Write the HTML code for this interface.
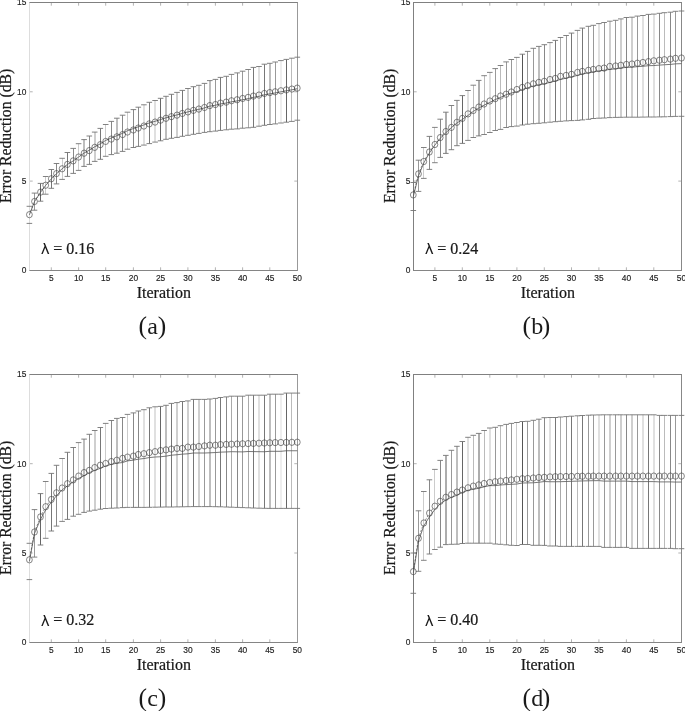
<!DOCTYPE html><html><head><meta charset="utf-8"><style>html,body{margin:0;padding:0;background:#fff;width:685px;height:711px;overflow:hidden}svg{display:block}.tk{font-family:"Liberation Sans",Arial,sans-serif;font-size:8.4px;fill:#222;stroke:#222;stroke-width:0.15px}.lb{font-family:"Liberation Serif","Times New Roman",serif;font-size:16px;fill:#1a1a1a;stroke:#1a1a1a;stroke-width:0.22px}.yl{font-size:15.7px}.it{font-style:italic}.lam{font-family:"WenQuanYi Zen Hei","Liberation Serif",sans-serif;font-size:16px;stroke-width:0px}.cap{font-family:"Liberation Serif","Times New Roman",serif;font-size:24px;fill:#1a1a1a}</style></head><body>
<svg width="685" height="711" viewBox="0 0 685 711">
<rect width="685" height="711" fill="#fff"/>
<g><path d="M29 2.5H298" stroke="#808080" stroke-width="1"/><path d="M29 270.5H298" stroke="#858585" stroke-width="1"/><path d="M29.5 2.5V270.5" stroke="#ddd" stroke-width="1"/><path d="M297.5 2.5V270.5" stroke="#999" stroke-width="1"/><path d="M51.3 270v-2.7M51.3 3v2.7M78.6 270v-2.7M78.6 3v2.7M105.7 270v-2.7M105.7 3v2.7M133.4 270v-2.7M133.4 3v2.7M160.6 270v-2.7M160.6 3v2.7M187.9 270v-2.7M187.9 3v2.7M215.4 270v-2.7M215.4 3v2.7M242.6 270v-2.7M242.6 3v2.7M269.8 270v-2.7M269.8 3v2.7M30 181.1h2.7M297 181.1h-2.7M30 91.8h2.7M297 91.8h-2.7" stroke="#aaa" stroke-width="0.9" fill="none"/><path d="M29.5 206.3V223.4" stroke="#ddd" stroke-width="1" fill="none"/><path d="M34.5 193.1V210.2M204.5 83.4V132.4M215.5 79.4V131.1M242.5 71.2V128.2M275.5 62V123.9M297.5 57.2V120.2" stroke="#999" stroke-width="1" fill="none"/><path d="M40.5 183.4V201.2M160.5 98.3V140.8M286.5 59.4V122.2" stroke="#666" stroke-width="1" fill="none"/><path d="M45.5 176.5V194.2M62.5 158.3V179.4M78.5 143.7V170.4M105.5 124.5V156.3M127.5 112.2V149.2" stroke="#ccc" stroke-width="1" fill="none"/><path d="M51.5 169.5V188.3M67.5 152.5V176.4M100.5 128.4V159.3M149.5 102.3V143.6M171.5 94.3V138.3M182.5 90.4V136.3M193.5 86.7V134.3M220.5 77.4V130.4M253.5 67.4V127.3M264.5 64.2V125.3" stroke="#777" stroke-width="1" fill="none"/><path d="M56.5 163.5V183.9M73.5 148.4V173.4M89.5 136V164.4M111.5 121.4V154.6M122.5 115.2V151.4M133.5 109.6V147.5M138.5 107.2V146.4M226.5 76.3V129.8M237.5 72.9V128.9" stroke="#888" stroke-width="1" fill="none"/><path d="M84 139.6V166.4M117 118.2V153.2M166 96.3V139.3M210 80.6V131.7M270 63.3V124.5" stroke="#bebebe" stroke-width="2" fill="none"/><path d="M95 132.1V161.4M177 92.4V137.4M188 88.5V135.3M199 85.3V133.4" stroke="#cfcfcf" stroke-width="2" fill="none"/><path d="M144 104.8V145.1M155 100.5V142.1M259 66.5V126.2" stroke="#e0e0e0" stroke-width="2" fill="none"/><path d="M231.5 74.4V129.2M248.5 69.5V127.8" stroke="#aaa" stroke-width="1" fill="none"/><path d="M281 60.6V123" stroke="#eeeeee" stroke-width="2" fill="none"/><path d="M291.5 58.2V121.4" stroke="#bbb" stroke-width="1" fill="none"/><path d="M26.6 206.3h5.6M26.6 223.4h5.6M31.7 193.1h5.6M31.7 210.2h5.6M37.7 183.4h5.6M37.7 201.2h5.6M42.9 176.5h5.6M42.9 194.2h5.6M48.5 169.5h5.6M48.5 188.3h5.6M53.7 163.5h5.6M53.7 183.9h5.6M59.3 158.3h5.6M59.3 179.4h5.6M64.6 152.5h5.6M64.6 176.4h5.6M70.4 148.4h5.6M70.4 173.4h5.6M75.8 143.7h5.6M75.8 170.4h5.6M81.3 139.6h5.6M81.3 166.4h5.6M86.5 136h5.6M86.5 164.4h5.6M91.9 132.1h5.6M91.9 161.4h5.6M97.5 128.4h5.6M97.5 159.3h5.6M102.9 124.5h5.6M102.9 156.3h5.6M108.5 121.4h5.6M108.5 154.6h5.6M114 118.2h5.6M114 153.2h5.6M119.8 115.2h5.6M119.8 151.4h5.6M124.7 112.2h5.6M124.7 149.2h5.6M130.6 109.6h5.6M130.6 147.5h5.6M135.5 107.2h5.6M135.5 146.4h5.6M141.1 104.8h5.6M141.1 145.1h5.6M146.5 102.3h5.6M146.5 143.6h5.6M152.3 100.5h5.6M152.3 142.1h5.6M157.8 98.3h5.6M157.8 140.8h5.6M163.2 96.3h5.6M163.2 139.3h5.6M168.6 94.3h5.6M168.6 138.3h5.6M174.2 92.4h5.6M174.2 137.4h5.6M179.5 90.4h5.6M179.5 136.3h5.6M185.1 88.5h5.6M185.1 135.3h5.6M190.6 86.7h5.6M190.6 134.3h5.6M196 85.3h5.6M196 133.4h5.6M201.7 83.4h5.6M201.7 132.4h5.6M207 80.6h5.6M207 131.7h5.6M212.6 79.4h5.6M212.6 131.1h5.6M217.7 77.4h5.6M217.7 130.4h5.6M223.4 76.3h5.6M223.4 129.8h5.6M228.7 74.4h5.6M228.7 129.2h5.6M234.3 72.9h5.6M234.3 128.9h5.6M239.8 71.2h5.6M239.8 128.2h5.6M245.3 69.5h5.6M245.3 127.8h5.6M250.6 67.4h5.6M250.6 127.3h5.6M256.2 66.5h5.6M256.2 126.2h5.6M261.6 64.2h5.6M261.6 125.3h5.6M267 63.3h5.6M267 124.5h5.6M272.4 62h5.6M272.4 123.9h5.6M278.1 60.6h5.6M278.1 123h5.6M283.5 59.4h5.6M283.5 122.2h5.6M289.1 58.2h5.6M289.1 121.4h5.6M294.5 57.2h5.6M294.5 120.2h5.6" stroke="#747474" stroke-width="0.9" fill="none"/><polyline points="29.4,214.85 34.5,201.65 40.5,192.3 45.7,185.35 51.3,178.9 56.5,173.7 62.1,168.85 67.4,164.45 73.2,160.9 78.6,157.05 84.1,153 89.3,150.2 94.7,146.75 100.3,143.85 105.7,140.4 111.3,138 116.8,135.7 122.6,133.3 127.5,130.7 133.4,128.55 138.3,126.8 143.9,124.95 149.3,122.95 155.1,121.3 160.6,119.55 166,117.8 171.4,116.3 177,114.9 182.3,113.35 187.9,111.9 193.4,110.5 198.8,109.35 204.5,107.9 209.8,106.15 215.4,105.25 220.5,103.9 226.2,103.05 231.5,101.8 237.1,100.9 242.6,99.7 248.1,98.65 253.4,97.35 259,96.35 264.4,94.75 269.8,93.9 275.2,92.95 280.9,91.8 286.3,90.8 291.9,89.8 297.3,88.7" stroke="#555" stroke-width="0.8" fill="none"/><path d="M30.54 211.71L33.36 204.41M36.2 198.82L38.8 194.79M42.39 189.63L43.81 187.74M47.77 182.84L49.23 181.16M53.53 176.57L54.27 175.83M58.89 171.55L59.71 170.84" stroke="#383838" stroke-width="0.6" stroke-dasharray="2.2,1.4" fill="none"/><g stroke="#383838" stroke-width="0.6" fill="none"><ellipse cx="29.4" cy="214.65" rx="2.9" ry="3.15"/><ellipse cx="34.5" cy="201.47" rx="2.9" ry="3.15"/><ellipse cx="40.5" cy="192.14" rx="2.9" ry="3.15"/><ellipse cx="45.7" cy="185.22" rx="2.9" ry="3.15"/><ellipse cx="51.3" cy="178.79" rx="2.9" ry="3.15"/><ellipse cx="56.5" cy="173.61" rx="2.9" ry="3.15"/><ellipse cx="62.1" cy="168.78" rx="2.9" ry="3.15"/><ellipse cx="67.4" cy="164.41" rx="2.9" ry="3.15"/><ellipse cx="73.2" cy="160.88" rx="2.9" ry="3.15"/><ellipse cx="78.6" cy="157.05" rx="2.9" ry="3.15"/><ellipse cx="84.1" cy="153.2" rx="2.9" ry="3.15"/><ellipse cx="89.3" cy="150.6" rx="2.9" ry="3.15"/><ellipse cx="94.7" cy="147.35" rx="2.9" ry="3.15"/><ellipse cx="100.3" cy="144.65" rx="2.9" ry="3.15"/><ellipse cx="105.7" cy="141.4" rx="2.9" ry="3.15"/><ellipse cx="111.3" cy="139.08" rx="2.9" ry="3.15"/><ellipse cx="116.8" cy="136.86" rx="2.9" ry="3.15"/><ellipse cx="122.6" cy="134.54" rx="2.9" ry="3.15"/><ellipse cx="127.5" cy="132.02" rx="2.9" ry="3.15"/><ellipse cx="133.4" cy="129.95" rx="2.9" ry="3.15"/><ellipse cx="138.3" cy="128.04" rx="2.9" ry="3.15"/><ellipse cx="143.9" cy="126.03" rx="2.9" ry="3.15"/><ellipse cx="149.3" cy="123.87" rx="2.9" ry="3.15"/><ellipse cx="155.1" cy="122.06" rx="2.9" ry="3.15"/><ellipse cx="160.6" cy="120.15" rx="2.9" ry="3.15"/><ellipse cx="166" cy="118.28" rx="2.9" ry="3.15"/><ellipse cx="171.4" cy="116.66" rx="2.9" ry="3.15"/><ellipse cx="177" cy="115.14" rx="2.9" ry="3.15"/><ellipse cx="182.3" cy="113.47" rx="2.9" ry="3.15"/><ellipse cx="187.9" cy="111.9" rx="2.9" ry="3.15"/><ellipse cx="193.4" cy="110.36" rx="2.9" ry="3.15"/><ellipse cx="198.8" cy="109.07" rx="2.9" ry="3.15"/><ellipse cx="204.5" cy="107.48" rx="2.9" ry="3.15"/><ellipse cx="209.8" cy="105.59" rx="2.9" ry="3.15"/><ellipse cx="215.4" cy="104.55" rx="2.9" ry="3.15"/><ellipse cx="220.5" cy="103.09" rx="2.9" ry="3.15"/><ellipse cx="226.2" cy="102.13" rx="2.9" ry="3.15"/><ellipse cx="231.5" cy="100.77" rx="2.9" ry="3.15"/><ellipse cx="237.1" cy="99.76" rx="2.9" ry="3.15"/><ellipse cx="242.6" cy="98.45" rx="2.9" ry="3.15"/><ellipse cx="248.1" cy="97.39" rx="2.9" ry="3.15"/><ellipse cx="253.4" cy="96.08" rx="2.9" ry="3.15"/><ellipse cx="259" cy="95.07" rx="2.9" ry="3.15"/><ellipse cx="264.4" cy="93.46" rx="2.9" ry="3.15"/><ellipse cx="269.8" cy="92.6" rx="2.9" ry="3.15"/><ellipse cx="275.2" cy="91.79" rx="2.9" ry="3.15"/><ellipse cx="280.9" cy="90.78" rx="2.9" ry="3.15"/><ellipse cx="286.3" cy="89.92" rx="2.9" ry="3.15"/><ellipse cx="291.9" cy="89.06" rx="2.9" ry="3.15"/><ellipse cx="297.3" cy="88.1" rx="2.9" ry="3.15"/></g><text class="tk" x="51.3" y="281.1" text-anchor="middle">5</text><text class="tk" x="78.6" y="281.1" text-anchor="middle">10</text><text class="tk" x="105.7" y="281.1" text-anchor="middle">15</text><text class="tk" x="133.4" y="281.1" text-anchor="middle">20</text><text class="tk" x="160.6" y="281.1" text-anchor="middle">25</text><text class="tk" x="187.9" y="281.1" text-anchor="middle">30</text><text class="tk" x="215.4" y="281.1" text-anchor="middle">35</text><text class="tk" x="242.6" y="281.1" text-anchor="middle">40</text><text class="tk" x="269.8" y="281.1" text-anchor="middle">45</text><text class="tk" x="297.3" y="281.1" text-anchor="middle">50</text><text class="tk" x="26.4" y="273.35" text-anchor="end">0</text><text class="tk" x="26.4" y="184.05" text-anchor="end">5</text><text class="tk" x="26.4" y="94.75" text-anchor="end">10</text><text class="tk" x="26.4" y="5.45" text-anchor="end">15</text><text class="lb" x="163.8" y="298" text-anchor="middle">Iteration</text><text class="lb yl" transform="translate(11.25,135.9) rotate(-90)" text-anchor="middle">Error Reduction (dB)</text><text class="lb lam" transform="translate(41,253.8)">&#955;</text><text class="lb" x="53.3" y="253.5">= 0.16</text><text class="cap" y="333.6"><tspan x="138.6" style="font-size:25.5px">(</tspan><tspan x="147.3">a</tspan><tspan x="157.8" style="font-size:25.5px">)</tspan></text></g>
<g><path d="M413 2.5H682" stroke="#808080" stroke-width="1"/><path d="M413 270.5H682" stroke="#858585" stroke-width="1"/><path d="M413.5 2.5V270.5" stroke="#808080" stroke-width="1"/><path d="M681.5 2.5V270.5" stroke="#888" stroke-width="1"/><path d="M434.9 270v-2.7M434.9 3v2.7M462.3 270v-2.7M462.3 3v2.7M489.8 270v-2.7M489.8 3v2.7M516.9 270v-2.7M516.9 3v2.7M544.3 270v-2.7M544.3 3v2.7M571.5 270v-2.7M571.5 3v2.7M598.9 270v-2.7M598.9 3v2.7M626.4 270v-2.7M626.4 3v2.7M653.8 270v-2.7M653.8 3v2.7M414 181.1h2.7M681 181.1h-2.7M414 91.8h2.7M681 91.8h-2.7" stroke="#aaa" stroke-width="0.9" fill="none"/><path d="M413.5 182.5V210.5M555.5 40.4V121.7M571.5 33.1V120.6M582.5 28.1V119.9M648.5 14.4V117" stroke="#777" stroke-width="1" fill="none"/><path d="M418.5 160.2V191.4M451.5 105.5V149.7M495.5 68.6V130.5M506.5 61.9V127.5M511.5 59.5V126.6M527.5 51.4V124.2M533.5 48.3V123.7M566.5 35.5V120.9M588.5 26.3V119.3M593.5 25.3V118.5M604.5 22.5V118M615.5 20.3V117.4M637.5 16.1V117.2M675.5 11.3V116.4" stroke="#999" stroke-width="1" fill="none"/><path d="M423.5 147.5V178.4M434.5 127.4V162.7M516.5 57.4V126.1" stroke="#ccc" stroke-width="1" fill="none"/><path d="M429.5 136.4V169.4M440.5 119.2V157.4M544.5 44.7V122.8M626.5 17.5V117.2M659.5 13.3V116.9M670.5 12.2V116.6M681.5 11V116.3" stroke="#888" stroke-width="1" fill="none"/><path d="M446 112.2V153.4M479 80.4V135.9" stroke="#adadad" stroke-width="2" fill="none"/><path d="M457 100.4V145.7M539 46.4V123.3" stroke="#bebebe" stroke-width="2" fill="none"/><path d="M462.5 95.6V143.4" stroke="#666" stroke-width="1" fill="none"/><path d="M468 90.5V140.4M490 72.4V132.5M550 42.6V122.2M599 23.6V118.2M643 15.5V117.1M654 14.1V117" stroke="#e0e0e0" stroke-width="2" fill="none"/><path d="M473.5 85.2V137.5M484.5 75.7V134.5M500.5 65.5V129.4M577.5 30.4V120.4M664.5 12.7V116.8" stroke="#bbb" stroke-width="1" fill="none"/><path d="M522.5 54.2V125" stroke="#555" stroke-width="1" fill="none"/><path d="M560.5 37.5V121.3" stroke="#aaa" stroke-width="1" fill="none"/><path d="M610 21.2V117.6M621 18.9V117.3M632 17.2V117.2" stroke="#cfcfcf" stroke-width="2" fill="none"/><path d="M410.5 182.5h5.6M410.5 210.5h5.6M415.7 160.2h5.6M415.7 191.4h5.6M421 147.5h5.6M421 178.4h5.6M426.6 136.4h5.6M426.6 169.4h5.6M432.1 127.4h5.6M432.1 162.7h5.6M437.4 119.2h5.6M437.4 157.4h5.6M443 112.2h5.6M443 153.4h5.6M448.6 105.5h5.6M448.6 149.7h5.6M454.1 100.4h5.6M454.1 145.7h5.6M459.5 95.6h5.6M459.5 143.4h5.6M465.2 90.5h5.6M465.2 140.4h5.6M470.5 85.2h5.6M470.5 137.5h5.6M475.9 80.4h5.6M475.9 135.9h5.6M481.3 75.7h5.6M481.3 134.5h5.6M487 72.4h5.6M487 132.5h5.6M492.4 68.6h5.6M492.4 130.5h5.6M497.7 65.5h5.6M497.7 129.4h5.6M503.3 61.9h5.6M503.3 127.5h5.6M508.5 59.5h5.6M508.5 126.6h5.6M514.1 57.4h5.6M514.1 126.1h5.6M519.5 54.2h5.6M519.5 125h5.6M524.9 51.4h5.6M524.9 124.2h5.6M530.5 48.3h5.6M530.5 123.7h5.6M536 46.4h5.6M536 123.3h5.6M541.5 44.7h5.6M541.5 122.8h5.6M547.2 42.6h5.6M547.2 122.2h5.6M552.5 40.4h5.6M552.5 121.7h5.6M557.7 37.5h5.6M557.7 121.3h5.6M563.3 35.5h5.6M563.3 120.9h5.6M568.7 33.1h5.6M568.7 120.6h5.6M574.7 30.4h5.6M574.7 120.4h5.6M579.5 28.1h5.6M579.5 119.9h5.6M585.6 26.3h5.6M585.6 119.3h5.6M590.5 25.3h5.6M590.5 118.5h5.6M596.1 23.6h5.6M596.1 118.2h5.6M601.3 22.5h5.6M601.3 118h5.6M607 21.2h5.6M607 117.6h5.6M612.8 20.3h5.6M612.8 117.4h5.6M618 18.9h5.6M618 117.3h5.6M623.6 17.5h5.6M623.6 117.2h5.6M629.2 17.2h5.6M629.2 117.2h5.6M634.6 16.1h5.6M634.6 117.2h5.6M640.1 15.5h5.6M640.1 117.1h5.6M645.6 14.4h5.6M645.6 117h5.6M651 14.1h5.6M651 117h5.6M656.6 13.3h5.6M656.6 116.9h5.6M661.6 12.7h5.6M661.6 116.8h5.6M667.6 12.2h5.6M667.6 116.6h5.6M672.7 11.3h5.6M672.7 116.4h5.6M678.7 11h5.6M678.7 116.3h5.6" stroke="#747474" stroke-width="0.9" fill="none"/><polyline points="413.3,196.5 418.5,175.8 423.8,162.95 429.4,152.9 434.9,145.05 440.2,138.3 445.8,132.8 451.4,127.6 456.9,123.05 462.3,119.5 468,115.45 473.3,111.35 478.7,108.15 484.1,105.1 489.8,102.45 495.2,99.55 500.5,97.45 506.1,94.7 511.3,93.05 516.9,91.75 522.3,89.6 527.7,87.8 533.3,86 538.8,84.85 544.3,83.75 550,82.4 555.3,81.05 560.5,79.4 566.1,78.2 571.5,76.85 577.5,75.4 582.3,74 588.4,72.8 593.3,71.9 598.9,70.9 604.1,70.25 609.8,69.4 615.6,68.85 620.8,68.1 626.4,67.35 632,67.2 637.4,66.65 642.9,66.3 648.4,65.7 653.8,65.55 659.4,65.1 664.4,64.75 670.4,64.4 675.5,63.85 681.5,63.65" stroke="#555" stroke-width="0.8" fill="none"/><path d="M414.06 191.84L417.74 176.96M419.74 171L422.56 164.4M425.4 158.79L427.8 154.71M431.26 149.46L433.04 147.04M436.82 142L438.28 140.1M442.33 135.28L443.67 133.82M453.71 125.26L454.59 124.44M464.77 116.45L465.53 115.85" stroke="#383838" stroke-width="0.6" stroke-dasharray="2.2,1.4" fill="none"/><g stroke="#383838" stroke-width="0.6" fill="none"><ellipse cx="413.3" cy="194.9" rx="2.9" ry="3.15"/><ellipse cx="418.5" cy="173.9" rx="2.9" ry="3.15"/><ellipse cx="423.8" cy="161.5" rx="2.9" ry="3.15"/><ellipse cx="429.4" cy="152" rx="2.9" ry="3.15"/><ellipse cx="434.9" cy="144.5" rx="2.9" ry="3.15"/><ellipse cx="440.2" cy="137.6" rx="2.9" ry="3.15"/><ellipse cx="445.8" cy="131.5" rx="2.9" ry="3.15"/><ellipse cx="451.4" cy="127.4" rx="2.9" ry="3.15"/><ellipse cx="456.9" cy="122.3" rx="2.9" ry="3.15"/><ellipse cx="462.3" cy="118.4" rx="2.9" ry="3.15"/><ellipse cx="468" cy="113.9" rx="2.9" ry="3.15"/><ellipse cx="473.3" cy="110.5" rx="2.9" ry="3.15"/><ellipse cx="478.7" cy="107.1" rx="2.9" ry="3.15"/><ellipse cx="484.1" cy="104" rx="2.9" ry="3.15"/><ellipse cx="489.8" cy="101" rx="2.9" ry="3.15"/><ellipse cx="495.2" cy="98.7" rx="2.9" ry="3.15"/><ellipse cx="500.5" cy="96" rx="2.9" ry="3.15"/><ellipse cx="506.1" cy="94.2" rx="2.9" ry="3.15"/><ellipse cx="511.3" cy="92" rx="2.9" ry="3.15"/><ellipse cx="516.9" cy="89.5" rx="2.9" ry="3.15"/><ellipse cx="522.3" cy="87.4" rx="2.9" ry="3.15"/><ellipse cx="527.7" cy="85.7" rx="2.9" ry="3.15"/><ellipse cx="533.3" cy="83.8" rx="2.9" ry="3.15"/><ellipse cx="538.8" cy="82.4" rx="2.9" ry="3.15"/><ellipse cx="544.3" cy="81.3" rx="2.9" ry="3.15"/><ellipse cx="550" cy="79.5" rx="2.9" ry="3.15"/><ellipse cx="555.3" cy="78.4" rx="2.9" ry="3.15"/><ellipse cx="560.5" cy="76.3" rx="2.9" ry="3.15"/><ellipse cx="566.1" cy="75.4" rx="2.9" ry="3.15"/><ellipse cx="571.5" cy="74.3" rx="2.9" ry="3.15"/><ellipse cx="577.5" cy="72.4" rx="2.9" ry="3.15"/><ellipse cx="582.3" cy="71.4" rx="2.9" ry="3.15"/><ellipse cx="588.4" cy="70.3" rx="2.9" ry="3.15"/><ellipse cx="593.3" cy="69.4" rx="2.9" ry="3.15"/><ellipse cx="598.9" cy="68.6" rx="2.9" ry="3.15"/><ellipse cx="604.1" cy="68.1" rx="2.9" ry="3.15"/><ellipse cx="609.8" cy="66.4" rx="2.9" ry="3.15"/><ellipse cx="615.6" cy="66" rx="2.9" ry="3.15"/><ellipse cx="620.8" cy="65.3" rx="2.9" ry="3.15"/><ellipse cx="626.4" cy="64.4" rx="2.9" ry="3.15"/><ellipse cx="632" cy="64" rx="2.9" ry="3.15"/><ellipse cx="637.4" cy="63.2" rx="2.9" ry="3.15"/><ellipse cx="642.9" cy="62.5" rx="2.9" ry="3.15"/><ellipse cx="648.4" cy="61.6" rx="2.9" ry="3.15"/><ellipse cx="653.8" cy="60.8" rx="2.9" ry="3.15"/><ellipse cx="659.4" cy="60.2" rx="2.9" ry="3.15"/><ellipse cx="664.4" cy="59.7" rx="2.9" ry="3.15"/><ellipse cx="670.4" cy="59.1" rx="2.9" ry="3.15"/><ellipse cx="675.5" cy="58.3" rx="2.9" ry="3.15"/><ellipse cx="681.5" cy="58" rx="2.9" ry="3.15"/></g><text class="tk" x="434.9" y="281.1" text-anchor="middle">5</text><text class="tk" x="462.3" y="281.1" text-anchor="middle">10</text><text class="tk" x="489.8" y="281.1" text-anchor="middle">15</text><text class="tk" x="516.9" y="281.1" text-anchor="middle">20</text><text class="tk" x="544.3" y="281.1" text-anchor="middle">25</text><text class="tk" x="571.5" y="281.1" text-anchor="middle">30</text><text class="tk" x="598.9" y="281.1" text-anchor="middle">35</text><text class="tk" x="626.4" y="281.1" text-anchor="middle">40</text><text class="tk" x="653.8" y="281.1" text-anchor="middle">45</text><text class="tk" x="681.5" y="281.1" text-anchor="middle">50</text><text class="tk" x="410.4" y="273.35" text-anchor="end">0</text><text class="tk" x="410.4" y="184.05" text-anchor="end">5</text><text class="tk" x="410.4" y="94.75" text-anchor="end">10</text><text class="tk" x="410.4" y="5.45" text-anchor="end">15</text><text class="lb" x="547.8" y="298" text-anchor="middle">Iteration</text><text class="lb yl" transform="translate(395.25,135.9) rotate(-90)" text-anchor="middle">Error Reduction (dB)</text><text class="lb lam" transform="translate(425,253.8)">&#955;</text><text class="lb" x="437.3" y="253.5">= 0.24</text><text class="cap" y="333.6"><tspan x="522.6" style="font-size:25.5px">(</tspan><tspan x="531.3">b</tspan><tspan x="541.8" style="font-size:25.5px">)</tspan></text></g>
<g><path d="M29 374.5H298" stroke="#808080" stroke-width="1"/><path d="M29 642.5H298" stroke="#858585" stroke-width="1"/><path d="M29.5 374.5V642.5" stroke="#ddd" stroke-width="1"/><path d="M297.5 374.5V642.5" stroke="#999" stroke-width="1"/><path d="M51.3 642v-2.7M51.3 375v2.7M78.6 642v-2.7M78.6 375v2.7M105.7 642v-2.7M105.7 375v2.7M133.4 642v-2.7M133.4 375v2.7M160.6 642v-2.7M160.6 375v2.7M187.9 642v-2.7M187.9 375v2.7M215.4 642v-2.7M215.4 375v2.7M242.6 642v-2.7M242.6 375v2.7M269.8 642v-2.7M269.8 375v2.7M30 553h2.7M297 553h-2.7M30 463.7h2.7M297 463.7h-2.7" stroke="#aaa" stroke-width="0.9" fill="none"/><path d="M29.5 543.3V579.6" stroke="#ddd" stroke-width="1" fill="none"/><path d="M34.5 509.6V557.1M204.5 399.4V506.6M215.5 398.4V506.7M242.5 396.2V507.6M275.5 394.2V508.4M297.5 393.1V508.4" stroke="#999" stroke-width="1" fill="none"/><path d="M40.5 493.6V545M160.5 406.4V507.1M286.5 393.1V508.4" stroke="#666" stroke-width="1" fill="none"/><path d="M45.5 481.5V538.3M62.5 458.5V521.4M78.5 442.6V514.3M105.5 423.4V508.5M127.5 414.4V507.4" stroke="#ccc" stroke-width="1" fill="none"/><path d="M51.5 473.4V531M67.5 452.3V519.4M100.5 427.5V509.2M149.5 407.8V507.3M171.5 403.4V507M182.5 401.5V506.8M193.5 399.4V506.6M220.5 397.5V506.8M253.5 395.2V508M264.5 395.2V508.3" stroke="#777" stroke-width="1" fill="none"/><path d="M56.5 465.3V526.1M73.5 447.5V516.2M89.5 434.3V511.1M111.5 420.5V508.2M122.5 417.5V507.6M133.5 412.9V507.4M138.5 411V507.4M226.5 396.9V507M237.5 396.2V507.4" stroke="#888" stroke-width="1" fill="none"/><path d="M84 439.1V512.4M117 418.4V508M166 405.3V507M210 399V506.6M270 394.2V508.4" stroke="#bebebe" stroke-width="2" fill="none"/><path d="M95 430.5V510.2M177 402.6V506.9M188 400.9V506.7M199 399.4V506.6" stroke="#cfcfcf" stroke-width="2" fill="none"/><path d="M144 409.7V507.4M155 406.8V507.2M259 395.2V508.2" stroke="#e0e0e0" stroke-width="2" fill="none"/><path d="M231.5 396.2V507.2M248.5 395.2V507.8" stroke="#aaa" stroke-width="1" fill="none"/><path d="M281 394.2V508.4" stroke="#eeeeee" stroke-width="2" fill="none"/><path d="M291.5 393.1V508.4" stroke="#bbb" stroke-width="1" fill="none"/><path d="M26.6 543.3h5.6M26.6 579.6h5.6M31.7 509.6h5.6M31.7 557.1h5.6M37.7 493.6h5.6M37.7 545h5.6M42.9 481.5h5.6M42.9 538.3h5.6M48.5 473.4h5.6M48.5 531h5.6M53.7 465.3h5.6M53.7 526.1h5.6M59.3 458.5h5.6M59.3 521.4h5.6M64.6 452.3h5.6M64.6 519.4h5.6M70.4 447.5h5.6M70.4 516.2h5.6M75.8 442.6h5.6M75.8 514.3h5.6M81.3 439.1h5.6M81.3 512.4h5.6M86.5 434.3h5.6M86.5 511.1h5.6M91.9 430.5h5.6M91.9 510.2h5.6M97.5 427.5h5.6M97.5 509.2h5.6M102.9 423.4h5.6M102.9 508.5h5.6M108.5 420.5h5.6M108.5 508.2h5.6M114 418.4h5.6M114 508h5.6M119.8 417.5h5.6M119.8 507.6h5.6M124.7 414.4h5.6M124.7 507.4h5.6M130.6 412.9h5.6M130.6 507.4h5.6M135.5 411h5.6M135.5 507.4h5.6M141.1 409.7h5.6M141.1 507.4h5.6M146.5 407.8h5.6M146.5 507.3h5.6M152.3 406.8h5.6M152.3 507.2h5.6M157.8 406.4h5.6M157.8 507.1h5.6M163.2 405.3h5.6M163.2 507h5.6M168.6 403.4h5.6M168.6 507h5.6M174.2 402.6h5.6M174.2 506.9h5.6M179.5 401.5h5.6M179.5 506.8h5.6M185.1 400.9h5.6M185.1 506.7h5.6M190.6 399.4h5.6M190.6 506.6h5.6M196 399.4h5.6M196 506.6h5.6M201.7 399.4h5.6M201.7 506.6h5.6M207 399h5.6M207 506.6h5.6M212.6 398.4h5.6M212.6 506.7h5.6M217.7 397.5h5.6M217.7 506.8h5.6M223.4 396.9h5.6M223.4 507h5.6M228.7 396.2h5.6M228.7 507.2h5.6M234.3 396.2h5.6M234.3 507.4h5.6M239.8 396.2h5.6M239.8 507.6h5.6M245.3 395.2h5.6M245.3 507.8h5.6M250.6 395.2h5.6M250.6 508h5.6M256.2 395.2h5.6M256.2 508.2h5.6M261.6 395.2h5.6M261.6 508.3h5.6M267 394.2h5.6M267 508.4h5.6M272.4 394.2h5.6M272.4 508.4h5.6M278.1 394.2h5.6M278.1 508.4h5.6M283.5 393.1h5.6M283.5 508.4h5.6M289.1 393.1h5.6M289.1 508.4h5.6M294.5 393.1h5.6M294.5 508.4h5.6" stroke="#747474" stroke-width="0.9" fill="none"/><polyline points="29.4,561.45 34.5,533.35 40.5,519.3 45.7,509.9 51.3,502.2 56.5,495.7 62.1,489.95 67.4,485.85 73.2,481.85 78.6,478.45 84.1,475.75 89.3,472.7 94.7,470.35 100.3,468.35 105.7,465.95 111.3,464.35 116.8,463.2 122.6,462.55 127.5,460.9 133.4,460.15 138.3,459.2 143.9,458.55 149.3,457.55 155.1,457 160.6,456.75 166,456.15 171.4,455.2 177,454.75 182.3,454.15 187.9,453.8 193.4,453 198.8,453 204.5,453 209.8,452.8 215.4,452.55 220.5,452.15 226.2,451.95 231.5,451.7 237.1,451.8 242.6,451.9 248.1,451.5 253.4,451.6 259,451.7 264.4,451.75 269.8,451.3 275.2,451.3 280.9,451.3 286.3,450.75 291.9,450.75 297.3,450.75" stroke="#555" stroke-width="0.8" fill="none"/><path d="M29.97 556.7L33.93 535.1M35.66 529.07L39.34 519.83M41.93 514.09L44.27 509.51M47.63 504.21L49.37 501.99M53.23 497.01L54.57 495.29M58.89 490.75L59.71 490.05" stroke="#383838" stroke-width="0.6" stroke-dasharray="2.2,1.4" fill="none"/><g stroke="#383838" stroke-width="0.6" fill="none"><ellipse cx="29.4" cy="559.8" rx="2.9" ry="3.15"/><ellipse cx="34.5" cy="532" rx="2.9" ry="3.15"/><ellipse cx="40.5" cy="516.9" rx="2.9" ry="3.15"/><ellipse cx="45.7" cy="506.7" rx="2.9" ry="3.15"/><ellipse cx="51.3" cy="499.5" rx="2.9" ry="3.15"/><ellipse cx="56.5" cy="492.8" rx="2.9" ry="3.15"/><ellipse cx="62.1" cy="488" rx="2.9" ry="3.15"/><ellipse cx="67.4" cy="483.7" rx="2.9" ry="3.15"/><ellipse cx="73.2" cy="479.89" rx="2.9" ry="3.15"/><ellipse cx="78.6" cy="476.09" rx="2.9" ry="3.15"/><ellipse cx="84.1" cy="472.58" rx="2.9" ry="3.15"/><ellipse cx="89.3" cy="470.37" rx="2.9" ry="3.15"/><ellipse cx="94.7" cy="467.56" rx="2.9" ry="3.15"/><ellipse cx="100.3" cy="465.16" rx="2.9" ry="3.15"/><ellipse cx="105.7" cy="463.45" rx="2.9" ry="3.15"/><ellipse cx="111.3" cy="461.54" rx="2.9" ry="3.15"/><ellipse cx="116.8" cy="460.24" rx="2.9" ry="3.15"/><ellipse cx="122.6" cy="458.33" rx="2.9" ry="3.15"/><ellipse cx="127.5" cy="457.12" rx="2.9" ry="3.15"/><ellipse cx="133.4" cy="456.11" rx="2.9" ry="3.15"/><ellipse cx="138.3" cy="454.51" rx="2.9" ry="3.15"/><ellipse cx="143.9" cy="453.7" rx="2.9" ry="3.15"/><ellipse cx="149.3" cy="452.62" rx="2.9" ry="3.15"/><ellipse cx="155.1" cy="451.63" rx="2.9" ry="3.15"/><ellipse cx="160.6" cy="450.55" rx="2.9" ry="3.15"/><ellipse cx="166" cy="449.87" rx="2.9" ry="3.15"/><ellipse cx="171.4" cy="449.08" rx="2.9" ry="3.15"/><ellipse cx="177" cy="448.4" rx="2.9" ry="3.15"/><ellipse cx="182.3" cy="448.4" rx="2.9" ry="3.15"/><ellipse cx="187.9" cy="447.1" rx="2.9" ry="3.15"/><ellipse cx="193.4" cy="447.1" rx="2.9" ry="3.15"/><ellipse cx="198.8" cy="446.5" rx="2.9" ry="3.15"/><ellipse cx="204.5" cy="445.9" rx="2.9" ry="3.15"/><ellipse cx="209.8" cy="445.2" rx="2.9" ry="3.15"/><ellipse cx="215.4" cy="445.2" rx="2.9" ry="3.15"/><ellipse cx="220.5" cy="444.6" rx="2.9" ry="3.15"/><ellipse cx="226.2" cy="444.4" rx="2.9" ry="3.15"/><ellipse cx="231.5" cy="444.2" rx="2.9" ry="3.15"/><ellipse cx="237.1" cy="444" rx="2.9" ry="3.15"/><ellipse cx="242.6" cy="443.8" rx="2.9" ry="3.15"/><ellipse cx="248.1" cy="443.6" rx="2.9" ry="3.15"/><ellipse cx="253.4" cy="443.4" rx="2.9" ry="3.15"/><ellipse cx="259" cy="443.2" rx="2.9" ry="3.15"/><ellipse cx="264.4" cy="443" rx="2.9" ry="3.15"/><ellipse cx="269.8" cy="442.8" rx="2.9" ry="3.15"/><ellipse cx="275.2" cy="442.6" rx="2.9" ry="3.15"/><ellipse cx="280.9" cy="442.5" rx="2.9" ry="3.15"/><ellipse cx="286.3" cy="442.4" rx="2.9" ry="3.15"/><ellipse cx="291.9" cy="442.3" rx="2.9" ry="3.15"/><ellipse cx="297.3" cy="442.2" rx="2.9" ry="3.15"/></g><text class="tk" x="51.3" y="653" text-anchor="middle">5</text><text class="tk" x="78.6" y="653" text-anchor="middle">10</text><text class="tk" x="105.7" y="653" text-anchor="middle">15</text><text class="tk" x="133.4" y="653" text-anchor="middle">20</text><text class="tk" x="160.6" y="653" text-anchor="middle">25</text><text class="tk" x="187.9" y="653" text-anchor="middle">30</text><text class="tk" x="215.4" y="653" text-anchor="middle">35</text><text class="tk" x="242.6" y="653" text-anchor="middle">40</text><text class="tk" x="269.8" y="653" text-anchor="middle">45</text><text class="tk" x="297.3" y="653" text-anchor="middle">50</text><text class="tk" x="26.4" y="645.25" text-anchor="end">0</text><text class="tk" x="26.4" y="555.95" text-anchor="end">5</text><text class="tk" x="26.4" y="466.65" text-anchor="end">10</text><text class="tk" x="26.4" y="377.35" text-anchor="end">15</text><text class="lb" x="163.8" y="669.9" text-anchor="middle">Iteration</text><text class="lb yl" transform="translate(11.25,507.8) rotate(-90)" text-anchor="middle">Error Reduction (dB)</text><text class="lb lam" transform="translate(41,625.7)">&#955;</text><text class="lb" x="53.3" y="625.4">= 0.32</text><text class="cap" y="705.5"><tspan x="138.6" style="font-size:25.5px">(</tspan><tspan x="147.3">c</tspan><tspan x="157.8" style="font-size:25.5px">)</tspan></text></g>
<g><path d="M413 374.5H682" stroke="#808080" stroke-width="1"/><path d="M413 642.5H682" stroke="#858585" stroke-width="1"/><path d="M413.5 374.5V642.5" stroke="#808080" stroke-width="1"/><path d="M681.5 374.5V642.5" stroke="#888" stroke-width="1"/><path d="M434.9 642v-2.7M434.9 375v2.7M462.3 642v-2.7M462.3 375v2.7M489.8 642v-2.7M489.8 375v2.7M516.9 642v-2.7M516.9 375v2.7M544.3 642v-2.7M544.3 375v2.7M571.5 642v-2.7M571.5 375v2.7M598.9 642v-2.7M598.9 375v2.7M626.4 642v-2.7M626.4 375v2.7M653.8 642v-2.7M653.8 375v2.7M414 553h2.7M681 553h-2.7M414 463.7h2.7M681 463.7h-2.7" stroke="#aaa" stroke-width="0.9" fill="none"/><path d="M413.5 553V593.3M555.5 417.5V546M571.5 416.2V546.4M582.5 415.5V546.4M648.5 414.8V548.4" stroke="#777" stroke-width="1" fill="none"/><path d="M418.5 510.8V571.3M451.5 450.3V544.3M495.5 427.3V544M506.5 424.4V544.8M511.5 423.4V545.3M527.5 421.3V544.5M533.5 420.3V545.3M566.5 416.6V546.4M588.5 415.2V546.4M593.5 415V546.4M604.5 414.8V547.4M615.5 414.8V547.4M637.5 414.8V548.4M675.5 415.4V548.7" stroke="#999" stroke-width="1" fill="none"/><path d="M423.5 491.5V560.3M434.5 469.4V549.5M516.5 422.5V545.5" stroke="#ccc" stroke-width="1" fill="none"/><path d="M429.5 479.8V554M440.5 460.4V547.2M544.5 417.7V545.4M626.5 414.8V547.4M659.5 415.4V548.4M670.5 415.4V548.4M681.5 415.4V548.7" stroke="#888" stroke-width="1" fill="none"/><path d="M446 455.4V544.6M479 433.4V543.2" stroke="#adadad" stroke-width="2" fill="none"/><path d="M457 446.3V544.2M539 419.2V545.3" stroke="#bebebe" stroke-width="2" fill="none"/><path d="M462.5 441.5V543.5" stroke="#666" stroke-width="1" fill="none"/><path d="M468 437.3V543.2M490 428V543.2M550 417.5V546M599 414.9V546.4M643 414.8V548.4M654 414.8V548.4" stroke="#e0e0e0" stroke-width="2" fill="none"/><path d="M473.5 435.3V543.2M484.5 430.5V543.2M500.5 425.7V544.3M577.5 415.8V546.4M664.5 415.4V548.4" stroke="#bbb" stroke-width="1" fill="none"/><path d="M522.5 421.5V544.5" stroke="#555" stroke-width="1" fill="none"/><path d="M560.5 417V546.4" stroke="#aaa" stroke-width="1" fill="none"/><path d="M610 414.8V547.4M621 414.8V547.4M632 414.8V548.4" stroke="#cfcfcf" stroke-width="2" fill="none"/><path d="M410.5 553h5.6M410.5 593.3h5.6M415.7 510.8h5.6M415.7 571.3h5.6M421 491.5h5.6M421 560.3h5.6M426.6 479.8h5.6M426.6 554h5.6M432.1 469.4h5.6M432.1 549.5h5.6M437.4 460.4h5.6M437.4 547.2h5.6M443 455.4h5.6M443 544.6h5.6M448.6 450.3h5.6M448.6 544.3h5.6M454.1 446.3h5.6M454.1 544.2h5.6M459.5 441.5h5.6M459.5 543.5h5.6M465.2 437.3h5.6M465.2 543.2h5.6M470.5 435.3h5.6M470.5 543.2h5.6M475.9 433.4h5.6M475.9 543.2h5.6M481.3 430.5h5.6M481.3 543.2h5.6M487 428h5.6M487 543.2h5.6M492.4 427.3h5.6M492.4 544h5.6M497.7 425.7h5.6M497.7 544.3h5.6M503.3 424.4h5.6M503.3 544.8h5.6M508.5 423.4h5.6M508.5 545.3h5.6M514.1 422.5h5.6M514.1 545.5h5.6M519.5 421.5h5.6M519.5 544.5h5.6M524.9 421.3h5.6M524.9 544.5h5.6M530.5 420.3h5.6M530.5 545.3h5.6M536 419.2h5.6M536 545.3h5.6M541.5 417.7h5.6M541.5 545.4h5.6M547.2 417.5h5.6M547.2 546h5.6M552.5 417.5h5.6M552.5 546h5.6M557.7 417h5.6M557.7 546.4h5.6M563.3 416.6h5.6M563.3 546.4h5.6M568.7 416.2h5.6M568.7 546.4h5.6M574.7 415.8h5.6M574.7 546.4h5.6M579.5 415.5h5.6M579.5 546.4h5.6M585.6 415.2h5.6M585.6 546.4h5.6M590.5 415h5.6M590.5 546.4h5.6M596.1 414.9h5.6M596.1 546.4h5.6M601.3 414.8h5.6M601.3 547.4h5.6M607 414.8h5.6M607 547.4h5.6M612.8 414.8h5.6M612.8 547.4h5.6M618 414.8h5.6M618 547.4h5.6M623.6 414.8h5.6M623.6 547.4h5.6M629.2 414.8h5.6M629.2 548.4h5.6M634.6 414.8h5.6M634.6 548.4h5.6M640.1 414.8h5.6M640.1 548.4h5.6M645.6 414.8h5.6M645.6 548.4h5.6M651 414.8h5.6M651 548.4h5.6M656.6 415.4h5.6M656.6 548.4h5.6M661.6 415.4h5.6M661.6 548.4h5.6M667.6 415.4h5.6M667.6 548.4h5.6M672.7 415.4h5.6M672.7 548.7h5.6M678.7 415.4h5.6M678.7 548.7h5.6" stroke="#747474" stroke-width="0.9" fill="none"/><polyline points="413.3,573.15 418.5,541.05 423.8,525.9 429.4,516.9 434.9,509.45 440.2,503.8 445.8,500 451.4,497.3 456.9,495.25 462.3,492.5 468,490.25 473.3,489.25 478.7,488.3 484.1,486.85 489.8,485.6 495.2,485.65 500.5,485 506.1,484.6 511.3,484.35 516.9,484 522.3,483 527.7,482.9 533.3,482.8 538.8,482.25 544.3,481.55 550,481.75 555.3,481.75 560.5,481.7 566.1,481.5 571.5,481.3 577.5,481.1 582.3,480.95 588.4,480.8 593.3,480.7 598.9,480.65 604.1,481.1 609.8,481.1 615.6,481.1 620.8,481.1 626.4,481.1 632,481.6 637.4,481.6 642.9,481.6 648.4,481.6 653.8,481.6 659.4,481.9 664.4,481.9 670.4,481.9 675.5,482.05 681.5,482.05" stroke="#555" stroke-width="0.8" fill="none"/><path d="M413.79 568.49L418.01 541.41M419.53 535.32L422.77 525.98M425.35 520.26L427.85 515.84M431.36 510.64L432.94 508.66M437.21 504.06L437.89 503.44" stroke="#383838" stroke-width="0.6" stroke-dasharray="2.2,1.4" fill="none"/><g stroke="#383838" stroke-width="0.6" fill="none"><ellipse cx="413.3" cy="571.6" rx="2.9" ry="3.15"/><ellipse cx="418.5" cy="538.3" rx="2.9" ry="3.15"/><ellipse cx="423.8" cy="523" rx="2.9" ry="3.15"/><ellipse cx="429.4" cy="513.1" rx="2.9" ry="3.15"/><ellipse cx="434.9" cy="506.2" rx="2.9" ry="3.15"/><ellipse cx="440.2" cy="501.3" rx="2.9" ry="3.15"/><ellipse cx="445.8" cy="497.3" rx="2.9" ry="3.15"/><ellipse cx="451.4" cy="494.5" rx="2.9" ry="3.15"/><ellipse cx="456.9" cy="492.1" rx="2.9" ry="3.15"/><ellipse cx="462.3" cy="490" rx="2.9" ry="3.15"/><ellipse cx="468" cy="487.8" rx="2.9" ry="3.15"/><ellipse cx="473.3" cy="486.1" rx="2.9" ry="3.15"/><ellipse cx="478.7" cy="484.9" rx="2.9" ry="3.15"/><ellipse cx="484.1" cy="483.5" rx="2.9" ry="3.15"/><ellipse cx="489.8" cy="482.5" rx="2.9" ry="3.15"/><ellipse cx="495.2" cy="481.7" rx="2.9" ry="3.15"/><ellipse cx="500.5" cy="481.1" rx="2.9" ry="3.15"/><ellipse cx="506.1" cy="480.5" rx="2.9" ry="3.15"/><ellipse cx="511.3" cy="479.9" rx="2.9" ry="3.15"/><ellipse cx="516.9" cy="479.3" rx="2.9" ry="3.15"/><ellipse cx="522.3" cy="478.7" rx="2.9" ry="3.15"/><ellipse cx="527.7" cy="478.5" rx="2.9" ry="3.15"/><ellipse cx="533.3" cy="478" rx="2.9" ry="3.15"/><ellipse cx="538.8" cy="477.5" rx="2.9" ry="3.15"/><ellipse cx="544.3" cy="477.3" rx="2.9" ry="3.15"/><ellipse cx="550" cy="476.9" rx="2.9" ry="3.15"/><ellipse cx="555.3" cy="476.7" rx="2.9" ry="3.15"/><ellipse cx="560.5" cy="476.6" rx="2.9" ry="3.15"/><ellipse cx="566.1" cy="476.5" rx="2.9" ry="3.15"/><ellipse cx="571.5" cy="476.4" rx="2.9" ry="3.15"/><ellipse cx="577.5" cy="476.3" rx="2.9" ry="3.15"/><ellipse cx="582.3" cy="476.2" rx="2.9" ry="3.15"/><ellipse cx="588.4" cy="476.2" rx="2.9" ry="3.15"/><ellipse cx="593.3" cy="476.1" rx="2.9" ry="3.15"/><ellipse cx="598.9" cy="476.1" rx="2.9" ry="3.15"/><ellipse cx="604.1" cy="476.1" rx="2.9" ry="3.15"/><ellipse cx="609.8" cy="476.1" rx="2.9" ry="3.15"/><ellipse cx="615.6" cy="476.1" rx="2.9" ry="3.15"/><ellipse cx="620.8" cy="476.1" rx="2.9" ry="3.15"/><ellipse cx="626.4" cy="476.1" rx="2.9" ry="3.15"/><ellipse cx="632" cy="476.1" rx="2.9" ry="3.15"/><ellipse cx="637.4" cy="476.1" rx="2.9" ry="3.15"/><ellipse cx="642.9" cy="476.1" rx="2.9" ry="3.15"/><ellipse cx="648.4" cy="476.1" rx="2.9" ry="3.15"/><ellipse cx="653.8" cy="476.1" rx="2.9" ry="3.15"/><ellipse cx="659.4" cy="476.1" rx="2.9" ry="3.15"/><ellipse cx="664.4" cy="476.1" rx="2.9" ry="3.15"/><ellipse cx="670.4" cy="476.1" rx="2.9" ry="3.15"/><ellipse cx="675.5" cy="476.1" rx="2.9" ry="3.15"/><ellipse cx="681.5" cy="476.1" rx="2.9" ry="3.15"/></g><text class="tk" x="434.9" y="653" text-anchor="middle">5</text><text class="tk" x="462.3" y="653" text-anchor="middle">10</text><text class="tk" x="489.8" y="653" text-anchor="middle">15</text><text class="tk" x="516.9" y="653" text-anchor="middle">20</text><text class="tk" x="544.3" y="653" text-anchor="middle">25</text><text class="tk" x="571.5" y="653" text-anchor="middle">30</text><text class="tk" x="598.9" y="653" text-anchor="middle">35</text><text class="tk" x="626.4" y="653" text-anchor="middle">40</text><text class="tk" x="653.8" y="653" text-anchor="middle">45</text><text class="tk" x="681.5" y="653" text-anchor="middle">50</text><text class="tk" x="410.4" y="645.25" text-anchor="end">0</text><text class="tk" x="410.4" y="555.95" text-anchor="end">5</text><text class="tk" x="410.4" y="466.65" text-anchor="end">10</text><text class="tk" x="410.4" y="377.35" text-anchor="end">15</text><text class="lb" x="547.8" y="669.9" text-anchor="middle">Iteration</text><text class="lb yl" transform="translate(395.25,507.8) rotate(-90)" text-anchor="middle">Error Reduction (dB)</text><text class="lb lam" transform="translate(425,625.7)">&#955;</text><text class="lb" x="437.3" y="625.4">= 0.40</text><text class="cap" y="705.5"><tspan x="522.6" style="font-size:25.5px">(</tspan><tspan x="531.3">d</tspan><tspan x="541.8" style="font-size:25.5px">)</tspan></text></g>
</svg></body></html>
